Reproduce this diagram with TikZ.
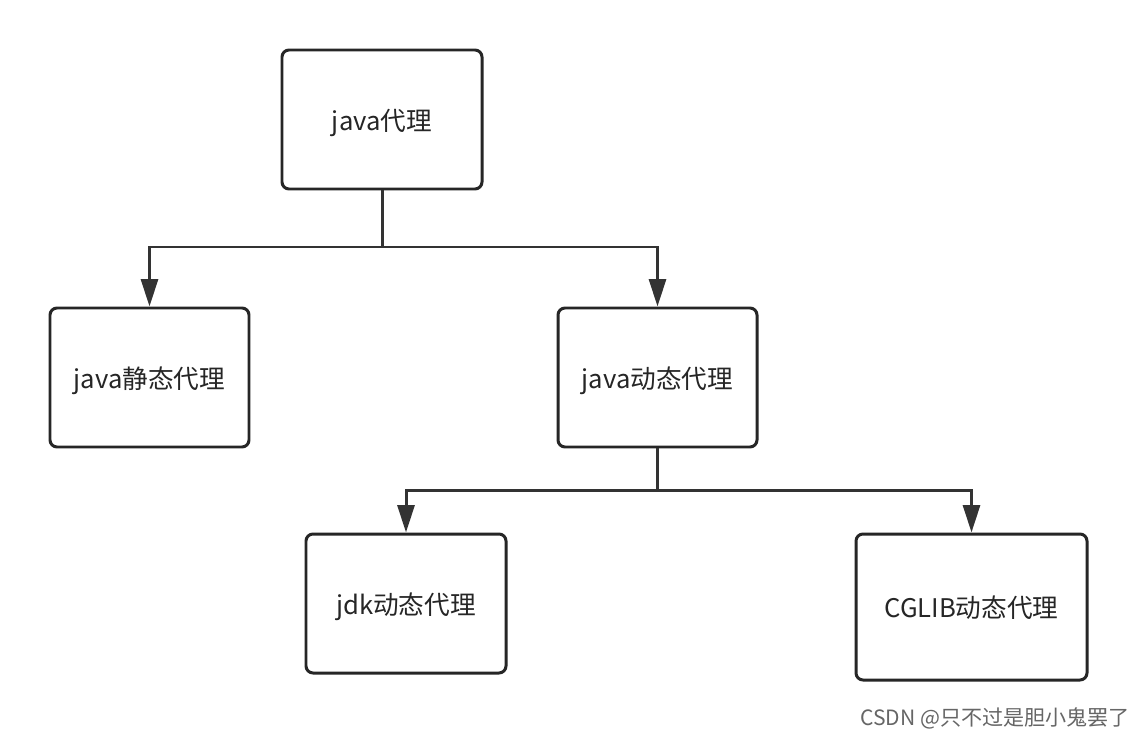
\documentclass[tikz,border=0pt]{standalone}
\usepackage{fontspec}
\setmainfont{Noto Sans CJK SC}
\usetikzlibrary{arrows.meta}
\begin{document}
\begin{tikzpicture}[x=0.02cm,y=-0.02cm,
  box/.style={draw=black!85,line width=1.7pt,rounded corners=4pt,fill=white,font=\fontsize{14.6}{17}\selectfont,text=black!85,text depth=-0.15cm},
  conn/.style={draw=black!80,line width=1.7pt,-{Triangle[length=0.55cm,width=0.34cm]}}]
\useasboundingbox[fill=white] (0,0) rectangle (1138,740);
\node[box,minimum width=200*0.02cm,minimum height=139*0.02cm] (root) at (382,119.5) {java代理};
\node[box,minimum width=199*0.02cm,minimum height=139*0.02cm] (stat) at (149.5,377.5) {java静态代理};
\node[box,minimum width=199*0.02cm,minimum height=139*0.02cm] (dyn) at (657.5,377.5) {java动态代理};
\node[box,minimum width=200*0.02cm,minimum height=139*0.02cm] (jdk) at (406,603.5) {jdk动态代理};
\node[box,minimum width=231*0.02cm,minimum height=146*0.02cm] (cglib) at (971.5,607) {CGLIB动态代理};
\coordinate (j1) at (382,247);
\coordinate (j2) at (657.5,490);
\draw[draw=black!80,line width=1.7pt] (root.south) -- (j1);
\draw[conn] (j1) -| (stat.north);
\draw[conn] (j1) -| (dyn.north);
\draw[draw=black!80,line width=1.7pt] (dyn.south) -- (j2);
\draw[conn] (j2) -| (jdk.north);
\draw[conn] (j2) -| (cglib.north);
\node[text=black!60,font=\fontsize{12}{14}\selectfont,anchor=east] (wm) at (1136,718) {CSDN @只不过是胆小鬼罢了};
\end{tikzpicture}
\end{document}
